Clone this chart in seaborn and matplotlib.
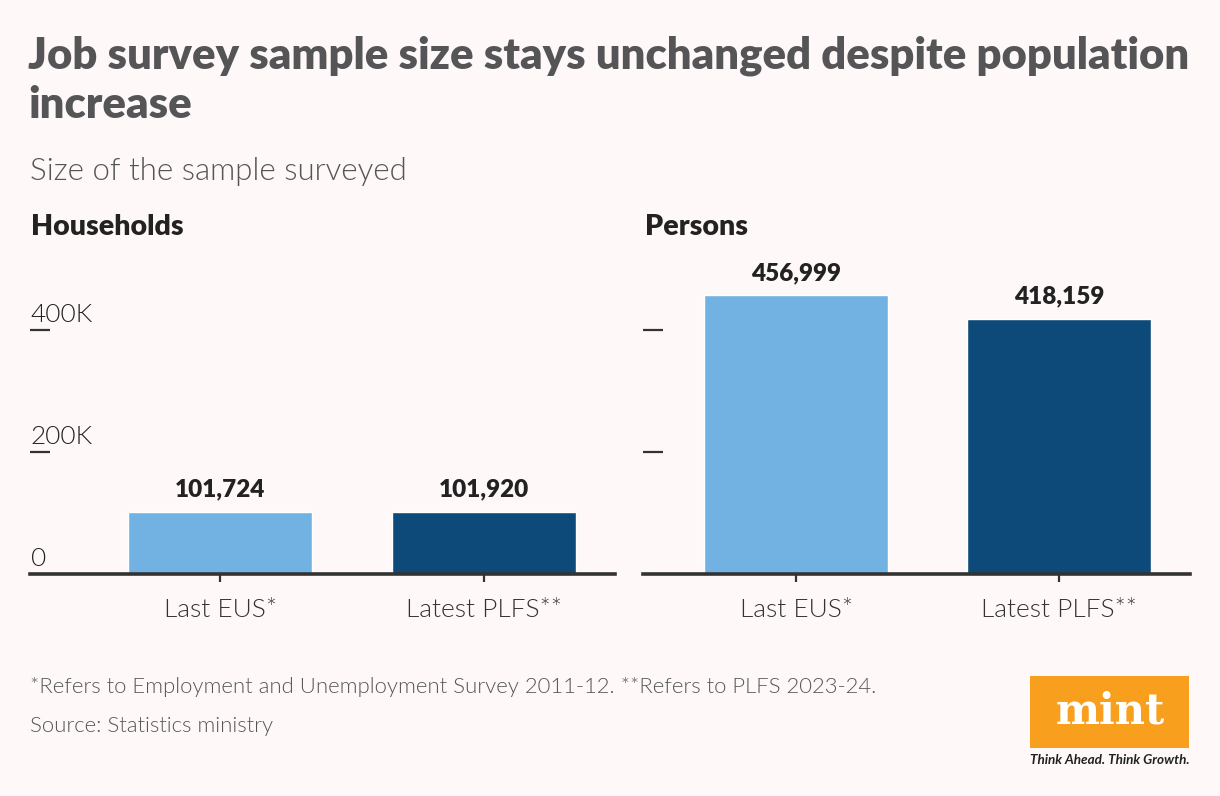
import matplotlib
matplotlib.use("Agg")
import matplotlib.pyplot as plt
import seaborn as sns
from matplotlib.patches import Rectangle

# ---- data ----
categories = ["Last EUS*", "Latest PLFS**"]
households = [101724, 101920]
persons = [456999, 418159]
ytick_values = [0, 200000, 400000]
ytick_labels = ["0", "200K", "400K"]

title_lines = ["Job survey sample size stays unchanged despite population", "increase"]
subtitle = "Size of the sample surveyed"
panel_titles = ["Households", "Persons"]
footnote = "*Refers to Employment and Unemployment Survey 2011-12. **Refers to PLFS 2023-24."
source = "Source: Statistics ministry"

# ---- style ----
BG = "#fef9f8"
LIGHT = "#72b2e2"
DARK = "#0d4a79"
AX_COL = "#333333"
TXT = "#222222"
GREY = "#555558"
LIGHTW = 300

sns.set_theme(style="white")
plt.rcParams["font.family"] = ["Lato", "DejaVu Sans"]

W, H = 1220, 796
fig = plt.figure(figsize=(W / 100, H / 100), dpi=100, facecolor=BG)

def fx(x):
    return x / W

def fy(y):
    return 1 - y / H

YTOP = 480000
base_px = 574
scale = 122 / 200000  # px per unit
top_px = base_px - YTOP * scale

panels = [
    (30, 615, (-0.722, 1.498), households),
    (643, 1190, (-0.582, 1.498), persons),
]

axes = []
for x0, x1, xlim, vals in panels:
    ax = fig.add_axes([fx(x0), fy(base_px), fx(x1) - fx(x0), (base_px - top_px) / H])
    ax.set_facecolor(BG)
    sns.barplot(x=categories, y=vals, hue=categories, palette=[LIGHT, DARK],
                width=0.70, ax=ax, legend=False, saturation=1)
    ax.set_xlim(*xlim)
    ax.set_ylim(0, YTOP)
    for s in ["top", "right", "left"]:
        ax.spines[s].set_visible(False)
    ax.spines["bottom"].set_color(AX_COL)
    ax.spines["bottom"].set_linewidth(2.6)
    ax.set_xlabel("")
    ax.set_ylabel("")
    ax.tick_params(axis="x", bottom=True, direction="out", length=6, width=1.6,
                   color=AX_COL, pad=11, labelsize=19, labelcolor=AX_COL)
    ax.set_yticks([v for v in ytick_values if v > 0])
    ax.tick_params(axis="y", left=True, direction="in", length=14.4, width=1.6,
                   color=AX_COL, labelleft=False)
    for i, v in enumerate(vals):
        ax.annotate(f"{v:,}", xy=(i, v), xytext=(0, 11), textcoords="offset points",
                    ha="center", va="baseline", fontsize=17.5, fontweight="heavy",
                    color=TXT, annotation_clip=False)
    for lab in ax.get_xticklabels():
        lab.set_fontweight(LIGHTW)
    axes.append(ax)

ax1 = axes[0]
# y tick labels only on the left panel
for v, lab in zip(ytick_values, ytick_labels):
    ax1.annotate(lab, xy=(0, v), xycoords=ax1.get_yaxis_transform(),
                 xytext=(0.5, 6), textcoords="offset points", ha="left", va="baseline",
                 fontsize=18.8, fontweight=LIGHTW, color=TXT, annotation_clip=False)

# ---- texts ----
fig.text(fx(28), fy(68), title_lines[0], fontsize=31.4, fontweight="heavy", color=GREY, va="baseline")
fig.text(fx(28), fy(118), title_lines[1], fontsize=31.4, fontweight="heavy", color=GREY, va="baseline")
fig.text(fx(30), fy(180), subtitle, fontsize=22.5, fontweight=LIGHTW, color=GREY, va="baseline")
fig.text(fx(31), fy(235), panel_titles[0], fontsize=20.5, fontweight="heavy", color=TXT, va="baseline")
fig.text(fx(645), fy(235), panel_titles[1], fontsize=20.5, fontweight="heavy", color=TXT, va="baseline")
fig.text(fx(30), fy(693), footnote, fontsize=15.9, fontweight=LIGHTW, color=GREY, va="baseline")
fig.text(fx(30), fy(732), source, fontsize=15.9, fontweight=LIGHTW, color=GREY, va="baseline")

# ---- logo ----
fig.patches.append(Rectangle((fx(1030), fy(748)), fx(1189) - fx(1030), fy(676) - fy(748),
                             transform=fig.transFigure, facecolor="#f99f1e", edgecolor="none"))
fig.text(fx(1110), fy(712), "mint", fontsize=30, fontweight="bold", color="white",
         family=["DejaVu Serif"], ha="center", va="center")
fig.text(fx(1110), fy(764), "Think Ahead. Think Growth.", fontsize=9.7, fontweight="bold",
         style="italic", color="#222222", ha="center", va="baseline")

fig.savefig("out.png", dpi=100, facecolor=BG)
